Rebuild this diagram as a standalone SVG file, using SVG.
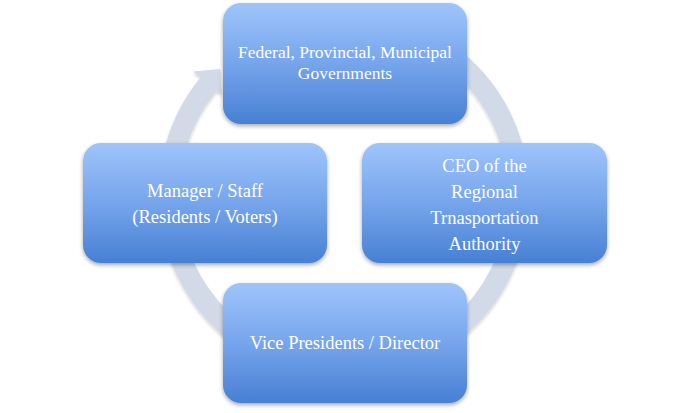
<svg xmlns="http://www.w3.org/2000/svg" width="690" height="413" viewBox="0 0 690 413">
  <defs>
    <linearGradient id="nodeGrad" x1="0" y1="0" x2="0" y2="1">
      <stop offset="0" stop-color="#9ec4fb"/>
      <stop offset="0.5" stop-color="#76a5ec"/>
      <stop offset="1" stop-color="#4780d3"/>
    </linearGradient>
    <filter id="shadow" x="-10%" y="-10%" width="120%" height="130%">
      <feGaussianBlur in="SourceAlpha" stdDeviation="2"/>
      <feOffset dx="0" dy="2" result="b"/>
      <feComponentTransfer><feFuncA type="linear" slope="0.35"/></feComponentTransfer>
      <feMerge><feMergeNode/><feMergeNode in="SourceGraphic"/></feMerge>
    </filter>
    <filter id="ringShadow" x="-10%" y="-10%" width="120%" height="120%">
      <feGaussianBlur in="SourceAlpha" stdDeviation="1.5"/>
      <feOffset dx="0" dy="1.5" result="b"/>
      <feComponentTransfer><feFuncA type="linear" slope="0.18"/></feComponentTransfer>
      <feMerge><feMergeNode/><feMergeNode in="SourceGraphic"/></feMerge>
    </filter>
  </defs>
  <style>
    .node { fill: url(#nodeGrad); filter: url(#shadow); }
    .label { fill: #ffffff; font-family: "Liberation Serif", "Times New Roman", serif; font-size: 18.5px; text-anchor: middle; }
    .small { font-size: 17.5px; }
    .ring { fill: none; stroke: #d2d9e7; stroke-width: 21; }
    .head { fill: #d2d9e7; }
  </style>
  <rect width="690" height="413" fill="#ffffff"/>
  <g id="connectors" filter="url(#ringShadow)">
    <path class="ring" d="M 403.9 30.6 A 175 175 0 1 1 208.6 84.2"/>
    <polygon class="head" points="193.1,71.5 220.3,69.1 221.7,94.9"/>
  </g>
  <g id="node-top">
    <rect class="node" x="223" y="3" width="244" height="121" rx="18" ry="18"/>
    <text class="label small" x="345" y="58">Federal, Provincial, Municipal</text>
    <text class="label small" x="345" y="79">Governments</text>
  </g>
  <g id="node-right">
    <rect class="node" x="362" y="143" width="245" height="120" rx="18" ry="18"/>
    <text class="label" x="484.5" y="172">CEO of the</text>
    <text class="label" x="484.5" y="198">Regional</text>
    <text class="label" x="484.5" y="224">Trnasportation</text>
    <text class="label" x="484.5" y="250">Authority</text>
  </g>
  <g id="node-bottom">
    <rect class="node" x="223" y="283" width="244" height="120" rx="18" ry="18"/>
    <text class="label" x="345" y="349">Vice Presidents / Director</text>
  </g>
  <g id="node-left">
    <rect class="node" x="83" y="143" width="244" height="120" rx="18" ry="18"/>
    <text class="label" x="205" y="197">Manager / Staff</text>
    <text class="label" x="205" y="223">(Residents / Voters)</text>
  </g>
</svg>
